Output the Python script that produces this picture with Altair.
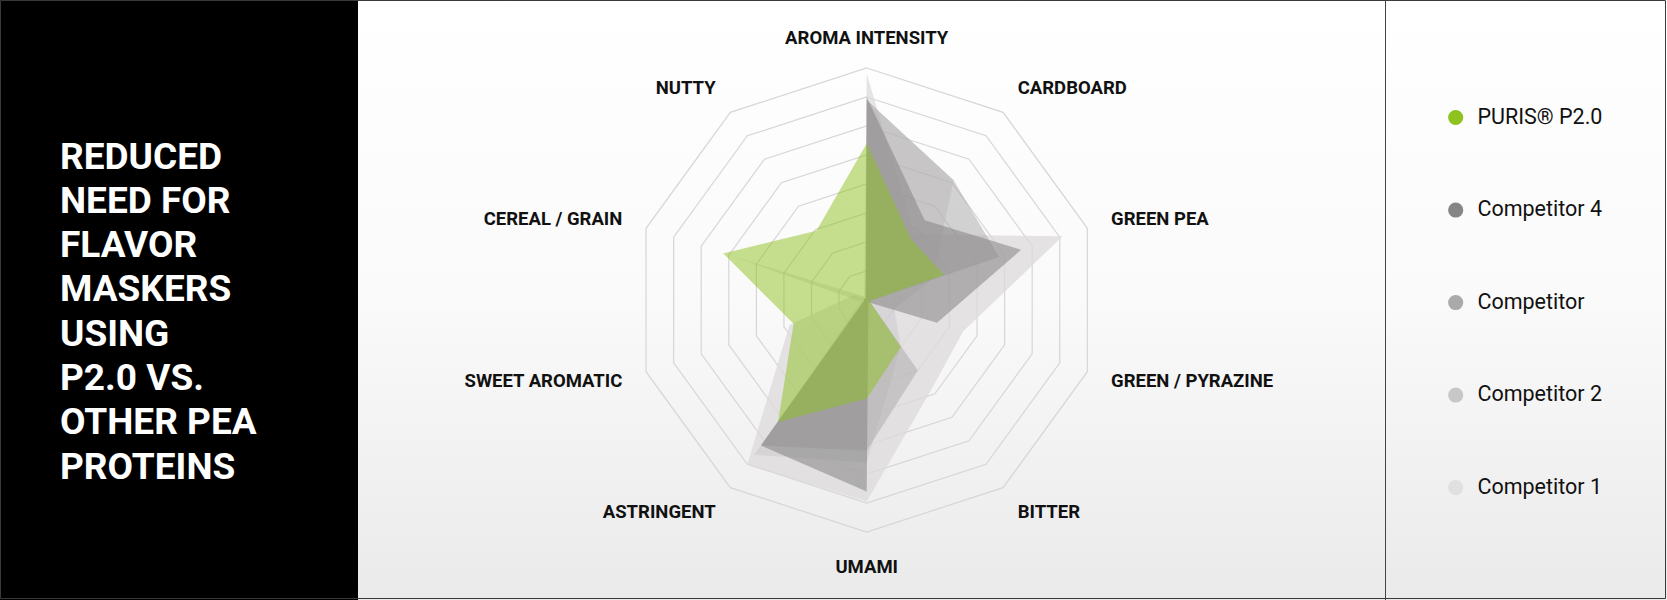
import altair as alt
import pandas as pd

# ---------------- data ----------------
axes_labels = ["AROMA INTENSITY", "CARDBOARD", "GREEN PEA", "GREEN / PYRAZINE", "BITTER",
               "UMAMI", "ASTRINGENT", "SWEET AROMATIC", "CEREAL / GRAIN", "NUTTY"]

series_names = ["PURIS® P2.0", "Competitor 4", "Competitor", "Competitor 2", "Competitor 1"]

puris = [5.4, 2.6, 2.8, 0.1, 2.0, 3.4, 5.2, 2.65, 5.2, 2.95]
competitor4 = [7.0, 3.4, 5.6, 2.55, 0.1, 6.6, 6.2, 0.1, 0.1, 0.05]
competitor = [6.9, 5.1, 4.8, 0.1, 3.0, 5.2, 6.2, 0.1, 0.1, 0.05]
competitor2 = [6.9, 5.1, 2.4, 1.0, 2.0, 5.6, 6.6, 0.2, 4.9, 0.15]
competitor1 = [7.8, 2.8, 7.1, 3.5, 3.8, 6.95, 7.0, 2.8, 0.5, 0.1]

ring_levels = [1, 2, 3, 4, 5, 6, 7, 8]

title_lines = ["REDUCED", "NEED FOR", "FLAVOR", "MASKERS", "USING",
               "P2.0 VS.", "OTHER PEA", "PROTEINS"]

legend_colors = ["#8dc21f", "#868485", "#aba9a9", "#c8c6c7", "#e1dfe0"]
fill_colors = ["#8dc21f", "#858384", "#a9a7a7", "#c8c6c7", "#dcdadb"]
fill_opac = [0.5, 0.55, 0.5, 0.45, 0.75]

values_by_series = [puris, competitor4, competitor, competitor2, competitor1]

# ---------------- tables ----------------
rows = []
for s, vals in zip(series_names, values_by_series):
    for i, (a, v) in enumerate(zip(axes_labels, vals)):
        rows.append({"series": s, "idx": i, "axis": a, "value": v})
poly_df = pd.DataFrame(rows)

ring_df = pd.DataFrame([{"level": l, "idx": i} for l in ring_levels for i in range(len(axes_labels))])
label_df = pd.DataFrame({"axis": axes_labels, "idx": list(range(len(axes_labels)))})
legend_df = pd.DataFrame({"series": series_names, "i": list(range(len(series_names))),
                          "col": legend_colors})
one = pd.DataFrame({"a": [0]})

W, H = 1667, 600
CX, CY, UNIT = 866.7, 300.0, 29.0
xs = alt.Scale(domain=[-CX / UNIT, (W - CX) / UNIT], range=[0, W], zero=False, nice=False)
ys = alt.Scale(domain=[-(H - CY) / UNIT, CY / UNIT], range=[H, 0], zero=False, nice=False)
N = len(axes_labels)
ang = f"datum.idx * 2 * PI / {N}"

def X(f):
    return alt.X(f, type="quantitative", scale=xs, axis=None)

def Y(f):
    return alt.Y(f, type="quantitative", scale=ys, axis=None)

# ---------------- background ----------------
grad = alt.Gradient(gradient="linear", x1=0, x2=0, y1=0, y2=1,
                    stops=[alt.GradientStop(offset=0, color="#ffffff"),
                           alt.GradientStop(offset=0.5, color="#fafafa"),
                           alt.GradientStop(offset=1, color="#eaeaea")])
bg = alt.Chart(one).mark_rect(color=grad).encode(
    x=alt.value(358), x2=alt.value(W), y=alt.value(0), y2=alt.value(H))
black = alt.Chart(one).mark_rect(color="#000000").encode(
    x=alt.value(0), x2=alt.value(358), y=alt.value(0), y2=alt.value(H))
divider = alt.Chart(one).mark_rule(color="#444444", strokeWidth=1).encode(
    x=alt.value(1385.5), y=alt.value(0), y2=alt.value(H))
border = alt.Chart(one).mark_rect(fill=None, stroke="#3a3a3a", strokeWidth=1, fillOpacity=0).encode(
    x=alt.value(0.5), x2=alt.value(1665.5), y=alt.value(0.5), y2=alt.value(598.5))

# ---------------- grid rings ----------------
rings = alt.Chart(ring_df).transform_calculate(
    px=f"datum.level * sin({ang})", py=f"datum.level * cos({ang})"
).mark_line(interpolate="linear-closed", stroke="#d6d6d6", strokeWidth=1.2).encode(
    x=X("px"), y=Y("py"), detail="level:N", order="idx:Q")

# ---------------- polygons (back to front) ----------------
poly_layers = []
for k in [4, 3, 2, 1, 0]:
    name = series_names[k]
    poly_layers.append(
        alt.Chart(poly_df).transform_filter(alt.datum.series == name).transform_calculate(
            px=f"datum.value * sin({ang})", py=f"datum.value * cos({ang})"
        ).mark_line(interpolate="linear-closed", fill=fill_colors[k], fillOpacity=fill_opac[k],
                    stroke=fill_colors[k], strokeOpacity=0, strokeWidth=0).encode(
            x=X("px"), y=Y("py"), order="idx:Q")
    )

# ---------------- axis labels ----------------
lab_base = alt.Chart(label_df).transform_calculate(
    px=f"8.86 * sin({ang})", py=f"9.05 * cos({ang})", s=f"sin({ang})", c=f"cos({ang})")
lab_kw = dict(font="Roboto", fontWeight="bold", fontSize=18.5, color="#111111", baseline="middle")
lab_right = lab_base.transform_filter("datum.s > 0.1").mark_text(align="left", **lab_kw).encode(
    x=X("px"), y=Y("py"), text="axis:N")
lab_left = lab_base.transform_filter("datum.s < -0.1").mark_text(align="right", **lab_kw).encode(
    x=X("px"), y=Y("py"), text="axis:N")
lab_top = lab_base.transform_filter("abs(datum.s) <= 0.1 && datum.c > 0").mark_text(
    align="center", **lab_kw).encode(x=X("px"), y=Y("py"), text="axis:N")
lab_bot = lab_base.transform_filter("abs(datum.s) <= 0.1 && datum.c < 0").mark_text(
    align="center", dy=4.5, **lab_kw).encode(x=X("px"), y=Y("py"), text="axis:N")

# ---------------- title ----------------
title = alt.Chart(one).mark_text(text=title_lines, lineHeight=44.3, font="Roboto",
                                 fontWeight="bold", fontSize=37, color="#ffffff",
                                 align="left", baseline="middle").encode(
    x=alt.value(60), y=alt.value(157.5))

# ---------------- legend ----------------
leg_base = alt.Chart(legend_df).transform_calculate(
    ly="6.293 - datum.i * 3.19", dx="20.31", tx="21.06")
leg_dots = leg_base.mark_circle(size=230, opacity=1).encode(
    x=X("dx"), y=Y("ly"), color=alt.Color("col:N", scale=None))
leg_text = leg_base.mark_text(align="left", baseline="middle", font="Roboto", fontSize=21.5,
                              color="#111111").encode(
    x=X("tx"), y=Y("ly"), text="series:N")

chart = alt.layer(
    bg, black, rings, *poly_layers, lab_right, lab_left, lab_top, lab_bot, title,
    leg_dots, leg_text, divider, border
).properties(width=W, height=H, padding=0, autosize=alt.AutoSizeParams(type="none"),
             background="#ffffff"
).configure_view(stroke=None)

chart.save("out.html", embed_options={"renderer": "svg", "actions": False})
